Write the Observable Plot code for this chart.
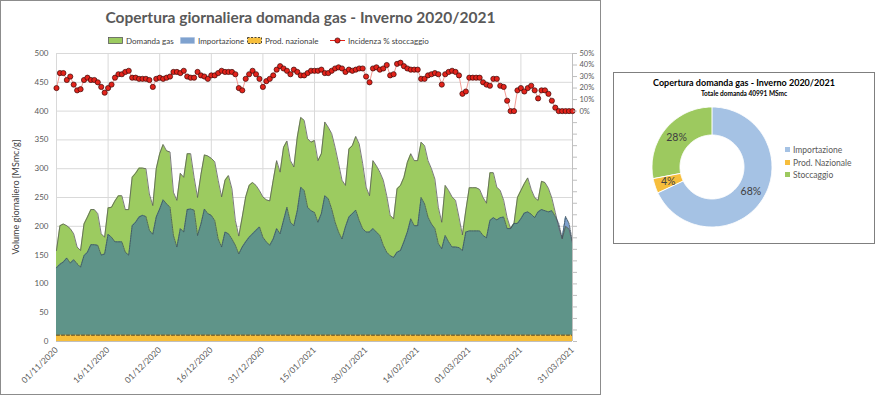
<!DOCTYPE html>
<html>
<head>
<meta charset="utf-8">
<script src="https://cdn.jsdelivr.net/npm/d3@7"></script>
<script src="https://cdn.jsdelivr.net/npm/@observablehq/plot@0.6"></script>
<style>
  body { margin:0; background:#fff; font-family: Lato, "Liberation Sans", sans-serif; color:#595959; }
  .abs { position:absolute; }
  .leg { position:absolute; font-size:8px; color:#404040; white-space:nowrap; line-height:10px; }
</style>
</head>
<body>
<div class="abs" style="left:0;top:0;width:599px;height:393px;border:1px solid #8c8c8c;"></div>
<div class="abs" id="title" style="left:0;width:601px;top:8px;text-align:center;font-size:15.5px;font-weight:bold;color:#595959;">Copertura giornaliera domanda gas - Inverno 2020/2021</div>
<div id="legend"></div>
<div class="abs" id="ylab" style="left:15px;top:197px;font-size:9px;color:#404040;transform:translate(-50%,-50%) rotate(-90deg);white-space:nowrap;">Volume giornaliero [MSmc/g]</div>
<div class="abs" id="main" style="left:0;top:45px;"></div>

<div class="abs" style="left:613px;top:72px;width:260px;height:170px;border:1px solid #7f7f7f;"></div>
<div class="abs" style="left:613px;width:262px;top:77px;text-align:center;font-size:9px;font-weight:bold;color:#000;">Copertura domanda gas - Inverno 2020/2021</div>
<div class="abs" id="psub" style="left:613px;width:262px;top:89.5px;text-align:center;font-size:6.5px;font-weight:bold;color:#000;">Totale domanda 40991 MSmc</div>
<div class="abs" id="donut" style="left:641px;top:96px;"></div>
<div id="dlegend"></div>

<script>
const startDate = new Date(Date.UTC(2020, 10, 1));

const demand = [
 158,201,204,201,196,187,164,158,204,216,
 229,229,222,187,181,232,233,244,253,253,
 229,229,285,292,301,301,300,256,236,300,
 326,342,331,329,259,245,292,285,326,326,
 285,250,290,324,322,318,312,280,251,280,
 288,265,210,183,216,251,271,276,271,262,
 251,246,244,280,314,294,337,348,314,303,
 355,389,384,352,346,349,314,326,381,372,
 361,337,309,280,271,334,340,356,343,309,
 268,253,314,305,294,280,253,219,213,265,
 271,285,311,326,314,314,346,340,314,300,
 282,233,207,271,262,251,245,216,185,228,
 267,267,267,264,250,240,293,293,268,262,
 245,215,196,205,250,262,274,284,264,250,
 245,278,276,266,249,224,198,178,200,195,
 170
];

const importazione = [
 117,123,127,134,125,131,124,118,138,144,
 157,157,156,139,141,175,170,162,162,162,
 144,139,190,196,205,208,206,182,175,205,
 219,235,228,222,173,153,185,179,218,219,
 217,173,193,219,211,208,199,167,153,179,
 176,167,156,141,153,162,170,176,182,188,
 170,162,156,167,185,176,199,222,196,190,
 216,257,251,222,216,213,196,211,242,237,
 219,196,179,167,188,205,211,217,199,185,
 179,179,185,179,173,156,144,138,135,144,
 147,162,179,202,190,190,239,228,205,193,
 185,159,150,173,162,153,153,152,147,179,
 181,181,181,181,173,169,199,204,200,204,
 205,185,185,194,194,202,212,214,210,204,
 214,218,216,214,216,206,194,168,206,194,
 162
];

const prodNazionale = [
 11,11,11,11,11,11,11,11,11,11,
 11,11,11,11,11,11,11,11,11,11,
 11,11,11,11,11,11,11,11,11,11,
 11,11,11,11,11,11,11,11,11,11,
 11,11,11,11,11,11,11,11,11,11,
 11,11,11,11,11,11,11,11,11,11,
 11,11,11,11,11,11,11,11,11,11,
 11,11,11,11,11,11,11,11,11,11,
 11,11,11,11,11,11,11,11,11,11,
 11,11,11,11,11,11,11,11,11,11,
 11,11,11,11,11,11,11,11,11,11,
 11,11,11,11,11,11,11,11,11,11,
 11,11,11,11,11,11,11,11,11,11,
 11,11,11,11,11,11,11,11,11,11,
 11,11,11,11,11,11,11,11,11,11,
 11
];

const incidenzaStoccaggio = [
 20,33,33,27,30,23,18,19,27,29,
 27,27,25,21,16,20,23,29,32,32,
 34,35,29,29,28,28,28,27,21,28,
 29,28,29,30,34,34,33,35,30,29,
 29,34,31,30,28,31,31,33,35,34,
 34,34,32,20,18,28,32,35,32,28,
 21,26,28,31,36,39,37,35,32,36,
 34,31,31,33,35,35,35,36,33,33,
 35,37,38,37,34,36,35,36,37,37,
 30,25,37,38,36,37,40,31,32,41,
 42,39,37,36,36,36,28,28,31,32,
 33,32,23,32,34,35,34,31,15,17,
 29,29,29,29,25,23,22,28,28,22,
 21,9,0,0,18,20,17,20,22,18,
 11,18,18,15,9,3,0,0,0,0,
 0
];

const xTickLabels = ["01/11/2020","16/11/2020","01/12/2020","16/12/2020","31/12/2020","15/01/2021","30/01/2021","14/02/2021","01/03/2021","16/03/2021","31/03/2021"];
const yTicks = [0,50,100,150,200,250,300,350,400,450,500];
const pctTicks = [0,10,20,30,40,50];
const seriesNames = ["Domanda gas","Importazione","Prod. nazionale","Incidenza % stoccaggio"];

const donutLabels = ["Importazione","Prod. Nazionale","Stoccaggio"];
const donutShares = [68,4,28];
const donutColors = ["#a5c2e4","#f7be3c","#9dc95f"];

// ---------- main chart ----------
const parse = d3.utcParse("%d/%m/%Y");
const tickDates = xTickLabels.map(parse);
const labelByTime = new Map(tickDates.map((d,i)=>[+d, xTickLabels[i]]));

const rows = demand.map((v,i)=>({
  date: d3.utcDay.offset(startDate, i),
  demand: v,
  imp: importazione[i],
  prod: prodNazionale[i],
  pct: incidenzaStoccaggio[i]
}));

// secondary axis: 0% sits at 400, 50% at 500 on the primary scale
const pctToY = p => 400 + p * 2;

const green = "#9ccb60", teal = "#5f9489", blue = "#7fa2cf", yellow = "#f6be3b";

const main = Plot.plot({
  width: 601, height: 346,
  marginTop: 8, marginLeft: 56, marginRight: 29, marginBottom: 50,
  x: {type: "utc", domain: [rows[0].date, rows[rows.length-1].date]},
  y: {domain: [0, 500]},
  style: {fontFamily: "Lato, 'Liberation Sans', sans-serif", fontSize: "8px", color: "#595959", background: "transparent", overflow: "visible"},
  marks: [
    Plot.gridY(yTicks, {stroke: "#d9d9d9", strokeOpacity: 1}),
    Plot.gridX(tickDates, {stroke: "#d9d9d9", strokeOpacity: 1}),
    Plot.areaY(rows, {x: "date", y: "demand", fill: green, curve: "linear"}),
    Plot.areaY(rows, {x: "date", y1: 0, y2: d => d.prod + d.imp, fill: teal, curve: "linear"}),
    Plot.areaY(rows, {x: "date", y1: "demand", y2: d => Math.max(d.demand, d.prod + d.imp), fill: blue, curve: "linear"}),
    Plot.areaY(rows, {x: "date", y: "prod", fill: yellow, curve: "linear"}),
    Plot.lineY(rows, {x: "date", y: "demand", stroke: "#5a5a5a", strokeWidth: 0.8}),
    Plot.lineY(rows, {x: "date", y: d => d.prod + d.imp, stroke: "#3d4f5c", strokeWidth: 0.8, strokeDasharray: "1.5,1"}),
    Plot.lineY(rows, {x: "date", y: "prod", stroke: "#222", strokeWidth: 0.8, strokeDasharray: "3,2"}),
    Plot.ruleY([0], {stroke: "#bfbfbf"}),
    Plot.ruleX([rows[rows.length-1].date], {stroke: "#bfbfbf"}),
    Plot.lineY(rows, {x: "date", y: d => pctToY(d.pct), stroke: "#f29c95", strokeWidth: 1}),
    Plot.dot(rows, {x: "date", y: d => pctToY(d.pct), r: 2.6, fill: "#e3231b", stroke: "#3b0a08", strokeWidth: 0.7}),
    Plot.axisY(yTicks, {anchor: "left", tickSize: 0, tickPadding: 8, label: null, fontSize: 8}),
    Plot.axisY(d3.range(0, 501, 20), {anchor: "right", tickSize: 4, tickPadding: 3, label: null, stroke: "#bfbfbf",
      tickFormat: d => d >= 400 ? `${pctTicks[(d-400)/20]}%` : "", fontSize: 7.5}),
    Plot.axisX(tickDates, {tickSize: 0, tickPadding: 7, tickRotate: -45, label: null, fontSize: 8.5,
      tickFormat: d => labelByTime.get(+d)})
  ]
});
document.getElementById("main").appendChild(main);

// legend for main chart
const legend = document.getElementById("legend");
const legItems = [
  {x:108, sw:`<rect x="0.5" y="1.5" width="14" height="6" fill="${green}" stroke="#5a5a5a" stroke-width="0.8"/>`},
  {x:180, sw:`<rect x="0.5" y="1.5" width="14" height="6" fill="${blue}" stroke="#9db7dc" stroke-width="0.8" stroke-dasharray="1,1"/>`},
  {x:247, sw:`<rect x="0.5" y="1.5" width="14" height="6" fill="${yellow}" stroke="#222" stroke-width="0.8" stroke-dasharray="2,1.5"/>`},
  {x:330, sw:`<line x1="0" x2="15" y1="4.5" y2="4.5" stroke="#e3231b" stroke-width="1"/><circle cx="7.5" cy="4.5" r="2.6" fill="#e3231b" stroke="#3b0a08" stroke-width="0.7"/>`}
];
legItems.forEach((it,i)=>{
  const d = document.createElement("div");
  d.className = "leg";
  d.style.left = it.x + "px";
  d.style.top = "36px";
  d.innerHTML = `<svg width="16" height="9" style="vertical-align:-1px;margin-right:2px">${it.sw}</svg>${seriesNames[i]}`;
  legend.appendChild(d);
});

// ---------- donut ----------
const total = d3.sum(donutShares);
const R = 60, r0 = 32, half = 70.5;
const slicePts = [];
const labelPts = [];
let acc = 0;
donutLabels.forEach((k, i) => {
  const a0 = acc / total * 2 * Math.PI;
  acc += donutShares[i];
  const a1 = acc / total * 2 * Math.PI;
  const n = Math.max(2, Math.ceil((a1 - a0) / 0.02));
  const pts = [];
  for (let j = 0; j <= n; j++) { const a = a0 + (a1 - a0) * j / n; pts.push({key: k, x: R * Math.sin(a), y: R * Math.cos(a)}); }
  for (let j = n; j >= 0; j--) { const a = a0 + (a1 - a0) * j / n; pts.push({key: k, x: r0 * Math.sin(a), y: r0 * Math.cos(a)}); }
  slicePts.push(pts);
  const am = (a0 + a1) / 2, rm = (R + r0) / 2;
  labelPts.push({x: rm * Math.sin(am), y: rm * Math.cos(am), text: `${donutShares[i]}%`});
});

const donut = Plot.plot({
  width: 141, height: 141, margin: 0,
  x: {domain: [-half, half], axis: null},
  y: {domain: [-half, half], axis: null},
  style: {fontFamily: "Lato, 'Liberation Sans', sans-serif", background: "transparent", overflow: "visible"},
  marks: [
    ...slicePts.map((pts, i) => Plot.line(pts, {x: "x", y: "y", fill: donutColors[i], stroke: "#fff", strokeWidth: 1, curve: "linear-closed"})),
    Plot.text(labelPts, {x: "x", y: "y", text: "text", fontSize: 10.5, fill: "#404040"})
  ]
});
document.getElementById("donut").appendChild(donut);

const dleg = document.getElementById("dlegend");
donutLabels.forEach((k, i) => {
  const d = document.createElement("div");
  d.className = "leg";
  d.style.left = "785px";
  d.style.top = (145 + i * 12.7) + "px";
  d.style.fontSize = "8.5px";
  d.style.color = "#595959";
  d.innerHTML = `<span style="display:inline-block;width:5px;height:5px;background:${donutColors[i]};margin-right:3px;vertical-align:1px"></span>${k}`;
  dleg.appendChild(d);
});
</script>
</body>
</html>
